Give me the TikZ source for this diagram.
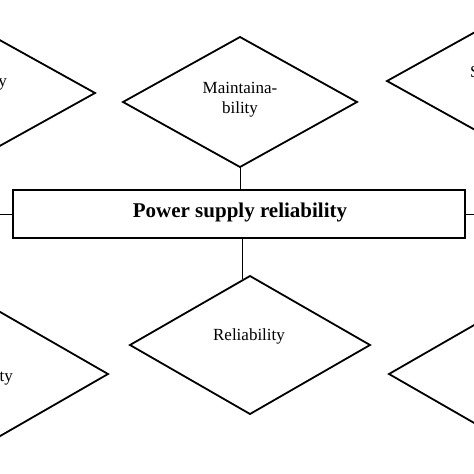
\documentclass[tikz,border=0pt]{standalone}
\usepackage{fontspec}
\setmainfont{Liberation Serif}
\usetikzlibrary{shapes.geometric}
\begin{document}
\begin{tikzpicture}[x=1pt,y=-1pt,
  dia/.style={draw,diamond,line width=1.8pt,inner sep=0pt,outer sep=0pt},
  diaA/.style={dia,minimum width=234pt,minimum height=130pt},
  diaB/.style={dia,minimum width=240pt,minimum height=138pt},
  lbl/.style={inner sep=0pt,font=\fontsize{17}{20}\selectfont},
  mainbox/.style={draw,line width=1.8pt,inner sep=0pt,minimum width=452pt,minimum height=48pt},
  conn/.style={line width=1pt}]
\useasboundingbox (0,0) rectangle (474,474);
\clip (0,0) rectangle (474,474);
\fill[white] (0,0) rectangle (474,474);
% diamonds
\node[diaA] (tl) at (-22,93) {};
\node[diaA] (mt) at (240,102) {};
\node[diaA] (tr) at (504,81) {};
\node[diaB] (bl) at (-12,374) {};
\node[diaB] (rel) at (250,345) {};
\node[diaB] (br) at (509,374) {};
% labels
\node[lbl,anchor=base east] (tltext) at (7,86) {Stability};
\node[lbl,anchor=base] (mt1) at (240,93) {Maintaina-};
\node[lbl,anchor=base] (mt2) at (240,113) {bility};
\node[lbl,anchor=base west] (trtext) at (470,77) {Security};
\node[lbl,anchor=base] (reltext) at (249,340) {Reliability};
\node[lbl,anchor=base east] (bltext) at (13,381) {Availability};
% main box
\node[mainbox] (box) at (239,214) {};
\node[inner sep=0pt,anchor=base,font=\fontsize{21}{24}\selectfont\bfseries] (boxtext) at (240,217) {Power supply reliability};
% connectors
\coordinate (L) at (0,214);
\coordinate (R) at (474,214);
\coordinate (relend) at (242,279);
\draw[conn] (box.west) -- (L);
\draw[conn] (box.east) -- (R);
\draw[conn] (mt.south) -- (mt.south |- box.north);
\draw[conn] (box.south -| relend) -- (relend);
\end{tikzpicture}
\end{document}
